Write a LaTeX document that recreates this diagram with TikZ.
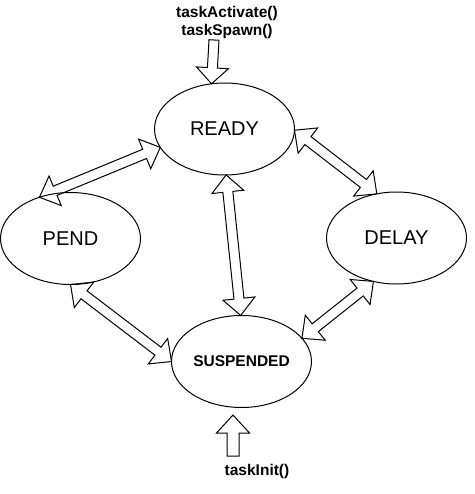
\documentclass[tikz,border=0pt]{standalone}
\usepackage{fontspec}
\setmainfont{Liberation Sans}
\usetikzlibrary{shapes.geometric,calc}
\tikzset{
  state/.style={ellipse, draw, line width=1pt, minimum width=140pt, minimum height=92pt, inner sep=0pt, outer sep=0pt, font=\fontsize{20}{24}\selectfont},
  lbl/.style={font=\bfseries\fontsize{15.5}{18}\selectfont, inner sep=0pt, anchor=base},
  blk/.style={draw, line width=1pt, line join=miter},
}
% double-headed hollow block arrow between two tips
\newcommand\dblarrow[2]{%
  \draw[blk] (#1) -- ($(#1)!17pt!(#2)!16pt!90:(#2)$) -- ($(#1)!17pt!(#2)!5pt!90:(#2)$)
   -- ($(#2)!17pt!(#1)!5pt!-90:(#1)$) -- ($(#2)!17pt!(#1)!16pt!-90:(#1)$) -- (#2)
   -- ($(#2)!17pt!(#1)!16pt!90:(#1)$) -- ($(#2)!17pt!(#1)!5pt!90:(#1)$)
   -- ($(#1)!17pt!(#2)!5pt!-90:(#2)$) -- ($(#1)!17pt!(#2)!16pt!-90:(#2)$) -- cycle;}
% single hollow block arrow: #1 tail, #2 tip, #3 shaft half width, #4 head half width, #5 head length
\newcommand\sglarrow[5]{%
  \draw[blk] (#2) -- ($(#2)!#5!(#1)!#4!90:(#1)$) -- ($(#2)!#5!(#1)!#3!90:(#1)$)
   -- ($(#1)!#3!-90:(#2)$) -- ($(#1)!#3!90:(#2)$)
   -- ($(#2)!#5!(#1)!#3!-90:(#1)$) -- ($(#2)!#5!(#1)!#4!-90:(#1)$) -- cycle;}
\begin{document}
\begin{tikzpicture}[x=1pt,y=-1pt]
\useasboundingbox (0,0) rectangle (474,494);
\node[state] (ready) at (224.5,129) {READY};
\node[state] (pend) at (70.5,238.5) {PEND};
\node[state] (delay) at (396.5,238) {DELAY};
\node[state, font=\bfseries\fontsize{15.5}{18}\selectfont] (susp) at (241.5,361.5) {SUSPENDED};
\node[lbl] (act) at (227,17.5) {taskActivate()};
\node[lbl] (spawn) at (227,35.5) {taskSpawn()};
\node[lbl] (init) at (257,475) {taskInit()};
\coordinate (topTail) at (214,40);
\coordinate (initTip) at (233,415);
\coordinate (initTail) at (233,456);
\dblarrow{ready.196}{pend.127}
\dblarrow{ready.359}{delay.114.7}
\dblarrow{ready.272.5}{susp.91.9}
\dblarrow{pend.270}{susp.180}
\dblarrow{delay.242.6}{susp.21.6}
\sglarrow{topTail}{ready.106}{5pt}{16pt}{16pt}
\sglarrow{initTail}{initTip}{6pt}{16.5pt}{18pt}
\end{tikzpicture}
\end{document}
